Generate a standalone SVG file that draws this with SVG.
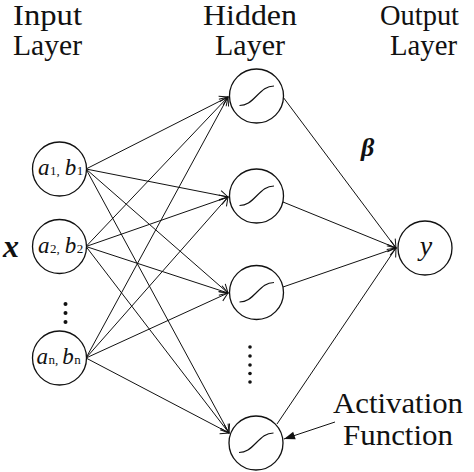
<svg xmlns="http://www.w3.org/2000/svg" width="474" height="472" viewBox="0 0 474 472">
<style>
.node{fill:#fff;stroke:#111;stroke-width:1.3}
.edge{stroke:#111;stroke-width:1;fill:none}
.sig{stroke:#111;stroke-width:1.2;fill:none}
.lbl{font-family:"Liberation Serif",serif;font-size:29px;fill:#111}
.nl{font-family:"Liberation Serif",serif;font-size:13px;fill:#111}
.it{font-style:italic;font-size:23px}
.dot{fill:#111}
</style>
<defs>
<marker id="open" markerUnits="userSpaceOnUse" markerWidth="12" markerHeight="12" viewBox="-10 -6 12 12" refX="0" refY="0" orient="auto">
<path d="M-8,-5 L0,0 L-8,5" stroke="#111" stroke-width="1" fill="none"/>
</marker>
<marker id="solid" markerUnits="userSpaceOnUse" markerWidth="14" markerHeight="10" viewBox="-12 -5 13 10" refX="0" refY="0" orient="auto">
<path d="M-11,-4 L0,0 L-11,4 Z" fill="#111"/>
</marker>
<path id="sigmoid" d="M-17,9.5 C-10,9.5 -6,6 0,0 C6,-6 10,-10 17.5,-10"/>
</defs>

<g id="headers">
<text class="lbl" x="13" y="25" textLength="69" lengthAdjust="spacingAndGlyphs">Input</text>
<text class="lbl" x="13" y="55" textLength="69" lengthAdjust="spacingAndGlyphs">Layer</text>
<text class="lbl" x="203" y="25" textLength="94" lengthAdjust="spacingAndGlyphs">Hidden</text>
<text class="lbl" x="215" y="55" textLength="70" lengthAdjust="spacingAndGlyphs">Layer</text>
<text class="lbl" x="380" y="25" textLength="79" lengthAdjust="spacingAndGlyphs">Output</text>
<text class="lbl" x="390" y="55" textLength="67" lengthAdjust="spacingAndGlyphs">Layer</text>
</g>

<g id="connectors">
<line class="edge" x1="86" y1="169" x2="228" y2="97" marker-end="url(#open)"/>
<line class="edge" x1="86" y1="169" x2="228" y2="197" marker-end="url(#open)"/>
<line class="edge" x1="86" y1="169" x2="228" y2="293" marker-end="url(#open)"/>
<line class="edge" x1="86" y1="169" x2="229" y2="433" marker-end="url(#open)"/>
<line class="edge" x1="86" y1="246.5" x2="228" y2="97" marker-end="url(#open)"/>
<line class="edge" x1="86" y1="246.5" x2="228" y2="197" marker-end="url(#open)"/>
<line class="edge" x1="86" y1="246.5" x2="228" y2="293" marker-end="url(#open)"/>
<line class="edge" x1="86" y1="246.5" x2="229" y2="433" marker-end="url(#open)"/>
<line class="edge" x1="86" y1="358" x2="228" y2="97" marker-end="url(#open)"/>
<line class="edge" x1="86" y1="358" x2="228" y2="197" marker-end="url(#open)"/>
<line class="edge" x1="86" y1="358" x2="228" y2="293" marker-end="url(#open)"/>
<line class="edge" x1="86" y1="358" x2="229" y2="433" marker-end="url(#open)"/>
<line class="edge" x1="283" y1="97" x2="396" y2="248" marker-end="url(#open)"/>
<line class="edge" x1="283" y1="202" x2="396" y2="248" marker-end="url(#open)"/>
<line class="edge" x1="283" y1="287" x2="396" y2="248" marker-end="url(#open)"/>
<line class="edge" x1="277" y1="424" x2="396" y2="248" marker-end="url(#open)"/>
<line class="edge" x1="335" y1="422" x2="284" y2="439" marker-end="url(#solid)"/>
</g>

<g id="input1">
<circle class="node" cx="59.5" cy="169" r="27"/>
<text class="nl" x="38" y="175"><tspan class="it">a</tspan><tspan dx="0.5">1,</tspan><tspan class="it" dx="5">b</tspan><tspan dx="0.5">1</tspan></text>
</g>
<g id="input2">
<circle class="node" cx="59.5" cy="246.5" r="27"/>
<text class="nl" x="38" y="252.5"><tspan class="it">a</tspan><tspan dx="0.5">2,</tspan><tspan class="it" dx="5">b</tspan><tspan dx="0.5">2</tspan></text>
</g>
<g id="inputDots">
<circle class="dot" cx="65.5" cy="304" r="2"/>
<circle class="dot" cx="65.5" cy="313" r="2"/>
<circle class="dot" cx="65.5" cy="322" r="2"/>
</g>
<g id="inputN">
<circle class="node" cx="59.5" cy="358" r="27"/>
<text class="nl" x="36.5" y="364"><tspan class="it">a</tspan><tspan dx="0.5">n,</tspan><tspan class="it" dx="4">b</tspan><tspan dx="0.5">n</tspan></text>
</g>
<g id="xLabel">
<text x="3" y="257" style="font-family:'Liberation Serif',serif;font-style:italic;font-weight:bold;font-size:32px;fill:#111">x</text>
</g>

<g id="hidden1">
<circle class="node" cx="256.5" cy="96" r="27"/>
<use href="#sigmoid" class="sig" transform="translate(256.5,96)"/>
</g>
<g id="hidden2">
<circle class="node" cx="256.5" cy="196" r="27"/>
<use href="#sigmoid" class="sig" transform="translate(256.5,196)"/>
</g>
<g id="hidden3">
<circle class="node" cx="256.5" cy="292.5" r="27"/>
<use href="#sigmoid" class="sig" transform="translate(256.5,292.5)"/>
</g>
<g id="hiddenDots">
<circle class="dot" cx="250" cy="347" r="1.8"/>
<circle class="dot" cx="250" cy="356" r="1.8"/>
<circle class="dot" cx="250" cy="365" r="1.8"/>
<circle class="dot" cx="250" cy="373.5" r="1.8"/>
<circle class="dot" cx="250" cy="382" r="1.8"/>
</g>
<g id="hidden4">
<circle class="node" cx="256" cy="443" r="27"/>
<use href="#sigmoid" class="sig" transform="translate(256,443)"/>
</g>

<g id="output">
<circle class="node" cx="425" cy="248" r="27"/>
<text x="426" y="255" text-anchor="middle" style="font-family:'Liberation Serif',serif;font-style:italic;font-size:28px;fill:#111">y</text>
</g>
<g id="betaLabel">
<text x="361" y="156" style="font-family:'Liberation Serif',serif;font-style:italic;font-weight:bold;font-size:26px;fill:#111">β</text>
</g>
<g id="activationLabel">
<text class="lbl" x="333" y="413" textLength="130" lengthAdjust="spacingAndGlyphs">Activation</text>
<text class="lbl" x="343" y="445" textLength="110" lengthAdjust="spacingAndGlyphs">Function</text>
</g>
</svg>
